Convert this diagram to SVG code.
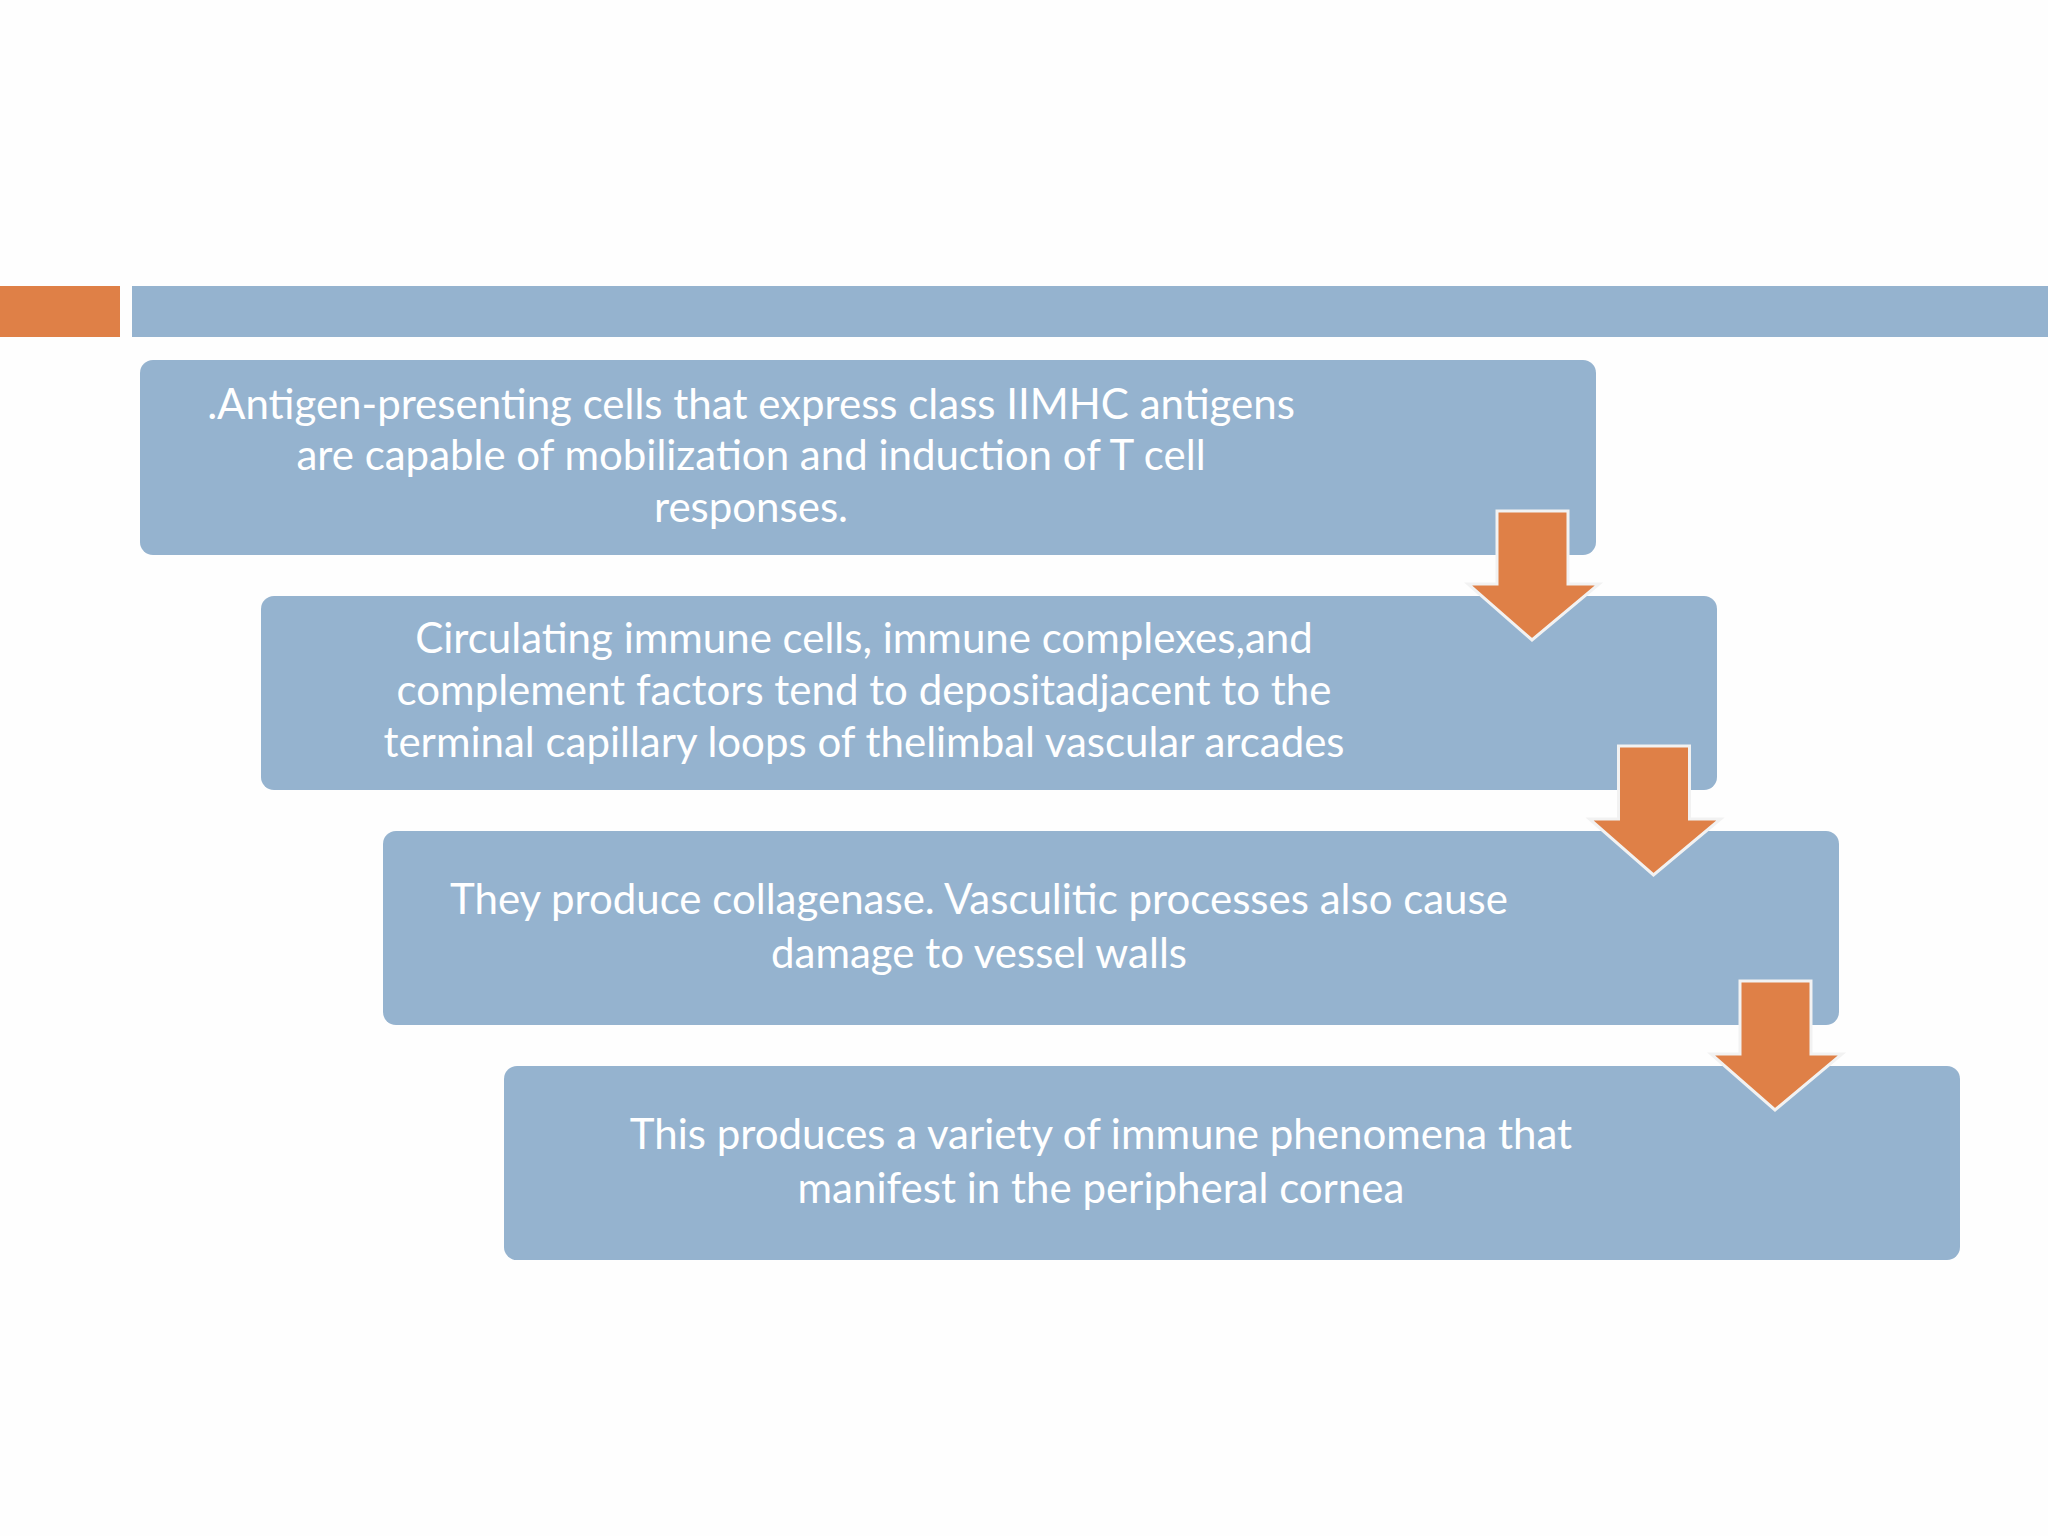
<svg xmlns="http://www.w3.org/2000/svg" width="2048" height="1536" viewBox="0 0 2048 1536">
<style>
.box{fill:#95b3cf}
.arr{fill:#df8047;stroke:#f2f2f2;stroke-width:3}
text{font-family:Lato,"Noto Sans",sans-serif;font-size:42px;fill:#ffffff;text-anchor:middle}
</style>
<defs>
<path id="arrow" d="M1497,511 H1568 V584 H1599 L1532,640 L1468,584 H1497 Z"/>
</defs>
<rect width="2048" height="1536" fill="#fefefe"/>
<rect x="0" y="286" width="120" height="51" fill="#df8047"/>
<rect x="132" y="286" width="1916" height="51" fill="#95b3cf"/>
<g id="node1"><rect class="box" x="140" y="360" width="1456" height="195" rx="13"/>
<text x="751" y="419">.Antigen-presenting cells that express class IIMHC antigens</text>
<text x="751" y="470">are capable of mobilization and induction of T cell</text>
<text x="751" y="522">responses.</text></g>
<g id="node2"><rect class="box" x="261" y="596" width="1456" height="194" rx="13"/>
<text x="864" y="653">Circulating immune cells, immune complexes,and</text>
<text x="864" y="705">complement factors tend to depositadjacent to the</text>
<text x="864" y="757">terminal capillary loops of thelimbal vascular arcades</text></g>
<g id="node3"><rect class="box" x="383" y="831" width="1456" height="194" rx="13"/>
<text x="979" y="914">They produce collagenase. Vasculitic processes also cause</text>
<text x="979" y="968">damage to vessel walls</text></g>
<g id="node4"><rect class="box" x="504" y="1066" width="1456" height="194" rx="13"/>
<text x="1101" y="1149">This produces a variety of immune phenomena that</text>
<text x="1101" y="1203">manifest in the peripheral cornea</text></g>
<g id="connectors">
<use href="#arrow" class="arr"/>
<use href="#arrow" class="arr" transform="translate(121.5,235)"/>
<use href="#arrow" class="arr" transform="translate(243,470)"/>
</g>
</svg>
